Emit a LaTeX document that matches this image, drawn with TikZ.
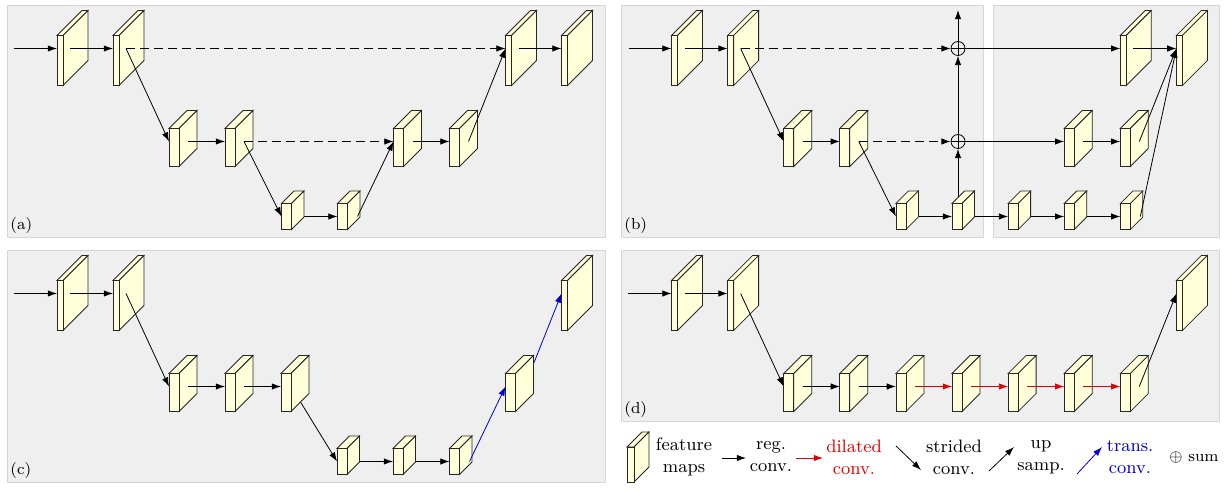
\documentclass[tikz,border=0pt]{standalone}
\usetikzlibrary{arrows.meta}
\definecolor{fmfill}{RGB}{255,255,218}
\definecolor{panelbg}{RGB}{239,239,239}
\definecolor{panelline}{RGB}{214,214,214}
\definecolor{dilred}{RGB}{226,0,0}
\definecolor{transblue}{RGB}{0,0,210}
\pgfdeclarelayer{back}
\pgfdeclarelayer{mid}
\pgfsetlayers{back,mid,main}
% feature map: name, x, y (front top left), width, height, depth, out offset
\newcommand{\fmap}[7]{%
  \filldraw[fmface] (#2,#3) -- ++(#6,-#6) -- ++(#4,0) -- ++(-#6,#6) -- cycle;
  \filldraw[fmface] (#2+#4,#3) -- ++(#6,-#6) -- ++(0,#5) -- ++(-#6,#6) -- cycle;
  \filldraw[fmface] (#2,#3) rectangle ++(#4,#5);
  \coordinate (#1) at (#2,#3+13);
  \coordinate (#1o) at (#2+#7,#3+13);
}
\newcommand{\Lmap}[3]{\fmap{#1}{#2}{#3}{6}{50}{25}{13}}
\newcommand{\Mmap}[3]{\fmap{#1}{#2}{#3}{10}{38}{18}{19}}
\newcommand{\Smap}[3]{\fmap{#1}{#2}{#3}{10}{26}{12.5}{20}}
\begin{document}
\begin{tikzpicture}[x=0.5pt,y=-0.5pt,line width=0.5pt,>={Latex[length=4.6pt,width=3.2pt]},
  fmface/.style={fill=fmfill,draw=black!85},
  panel/.style={fill=panelbg,draw=panelline},
  skipconn/.style={dash pattern=on 4.5pt off 2.5pt},
  dilconn/.style={dilred},
  transconv/.style={transblue},
  plabel/.style={font=\footnotesize,inner sep=1.5pt,anchor=south west},
  legtext/.style={font=\small,align=center,inner sep=0pt},
  sumnode/.style={circle,draw,minimum size=7pt,inner sep=0pt,
    path picture={\draw (path picture bounding box.north) -- (path picture bounding box.south)
      (path picture bounding box.west) -- (path picture bounding box.east);}}]
\useasboundingbox (0,0) rectangle (1229,490);
\begin{pgfonlayer}{back}
  \draw[panel] (7,5) rectangle (605,237);
  \draw[panel] (621,5) rectangle (983,237);
  \draw[panel] (993,5) rectangle (1219,237);
  \draw[panel] (7,250) rectangle (605,482);
  \draw[panel] (621,250) rectangle (1219,421);
\end{pgfonlayer}

% (a)
\Lmap{a1}{57}{35.5}
\Lmap{a2}{113}{35.5}
\Mmap{a3}{169}{128.5}
\Mmap{a4}{225}{128.5}
\Smap{a5}{281.5}{203.5}
\Smap{a6}{337.5}{203.5}
\Mmap{a7}{393.5}{128.5}
\Mmap{a8}{449.5}{128.5}
\Lmap{a9}{505.5}{35.5}
\Lmap{a10}{561.5}{35.5}
\coordinate (ain) at (13.5,48.5);
\draw[->] (ain) -- (a1);
\draw[->] (a1o) -- (a2);
\draw[->,skipconn] (a2o) -- (a9);
\draw[->] (a2o) -- (a3);
\draw[->] (a3o) -- (a4);
\draw[->,skipconn] (a4o) -- (a7);
\draw[->] (a4o) -- (a5);
\begin{pgfonlayer}{mid}
  \draw[->] (a5o) -- (a6);
\end{pgfonlayer}
\draw[->] (a6o) -- (a7);
\draw[->] (a7o) -- (a8);
\draw[->] (a8o) -- (a9);
\draw[->] (a9o) -- (a10);
\node[plabel] (la) at (7,237) {(a)};

% (b)
\Lmap{b1}{671.5}{35.5}
\Lmap{b2}{727.6}{35.5}
\Mmap{b3}{783.7}{128.5}
\Mmap{b4}{839.8}{128.5}
\Smap{b5}{895.9}{203.5}
\Smap{b6}{952}{203.5}
\Smap{b7}{1008.1}{203.5}
\Smap{b8}{1064.2}{203.5}
\Smap{b9}{1120.3}{203.5}
\Mmap{b10}{1064.2}{128.5}
\Mmap{b11}{1120.3}{128.5}
\Lmap{b12}{1120.3}{35.5}
\Lmap{b13}{1176.4}{35.5}
\node[sumnode] (s1) at (958,48.5) {};
\node[sumnode] (s2) at (958,141.5) {};
\coordinate (bin) at (628.5,48.5);
\coordinate (btop) at (958,10);
\draw[->] (bin) -- (b1);
\draw[->] (b1o) -- (b2);
\draw[->,skipconn] (b2o) -- (s1.west);
\draw[->] (b2o) -- (b3);
\draw[->] (b3o) -- (b4);
\draw[->,skipconn] (b4o) -- (s2.west);
\draw[->] (b4o) -- (b5);
\begin{pgfonlayer}{mid}
  \draw[->] (b5o) -- (b6);
  \draw[->] (b6o) -- (b7);
  \draw[->] (b7o) -- (b8);
  \draw[->] (b8o) -- (b9);
  \draw[->] ([xshift=3pt]b6) -- (s2.south);
\end{pgfonlayer}
\draw[->] (s2.north) -- (s1.south);
\draw[->] (s1.north) -- (btop);
\draw[->] (s1.east) -- (b12);
\draw[->] (s2.east) -- (b10);
\draw[->] (b10o) -- (b11);
\draw[->] (b12o) -- (b13);
\draw[->] (b11o) -- (b13);
\draw[->] (b9o) -- (b13);
\node[plabel] (lb) at (621,237) {(b)};

% (c)
\Lmap{c1}{57}{280.5}
\Lmap{c2}{113}{280.5}
\Mmap{c3}{169}{373.5}
\Mmap{c4}{225}{373.5}
\Mmap{c5}{281}{373.5}
\Smap{c6}{337}{448.5}
\Smap{c7}{393}{448.5}
\Smap{c8}{449.5}{448.5}
\Mmap{c9}{505.5}{373.5}
\Lmap{c10}{561.5}{280.5}
\coordinate (cin) at (13.5,293.5);
\draw[->] (cin) -- (c1);
\draw[->] (c1o) -- (c2);
\draw[->] (c2o) -- (c3);
\draw[->] (c3o) -- (c4);
\draw[->] (c4o) -- (c5);
\begin{pgfonlayer}{mid}
  \draw[->] ([xshift=5pt]c5) -- (c6);
  \draw[->] (c6o) -- (c7);
  \draw[->] (c7o) -- (c8);
  \draw[->,transconv] (c9o) -- (c10);
\end{pgfonlayer}
\draw[->,transconv] (c8o) -- (c9);
\node[plabel] (lc) at (7,482) {(c)};

% (d)
\Lmap{d1}{671.5}{280.5}
\Lmap{d2}{727.6}{280.5}
\Mmap{d3}{783.7}{373.5}
\Mmap{d4}{839.8}{373.5}
\Mmap{d5}{895.9}{373.5}
\Mmap{d6}{952}{373.5}
\Mmap{d7}{1008.1}{373.5}
\Mmap{d8}{1064.2}{373.5}
\Mmap{d9}{1120.3}{373.5}
\Lmap{d10}{1176.4}{280.5}
\coordinate (din) at (628,293.5);
\draw[->] (din) -- (d1);
\draw[->] (d1o) -- (d2);
\draw[->] (d2o) -- (d3);
\draw[->] (d3o) -- (d4);
\draw[->] (d4o) -- (d5);
\draw[->,dilconn] (d5o) -- (d6);
\draw[->,dilconn] (d6o) -- (d7);
\draw[->,dilconn] (d7o) -- (d8);
\draw[->,dilconn] (d8o) -- (d9);
\draw[->] (d9o) -- (d10);
\node[plabel] (ld) at (621,421) {(d)};

% legend
\fmap{lg}{627}{447}{7}{35}{15}{0}
\node[legtext] (lfm) at (684,457) {feature\\maps};
\coordinate (r0) at (722,458);
\coordinate (r1) at (746,458);
\draw[->] (r0) -- (r1);
\node[legtext] (lreg) at (771,457) {reg.\\conv.};
\coordinate (d0) at (796,458);
\coordinate (d1) at (823,458);
\draw[->,dilconn] (d0) -- (d1);
\node[legtext,dilred] (ldil) at (854,457) {dilated\\conv.};
\coordinate (t0) at (896,446);
\coordinate (t1) at (921,470);
\draw[->] (t0) -- (t1);
\node[legtext] (lstr) at (954,457) {strided\\conv.};
\coordinate (u0) at (989,471);
\coordinate (u1) at (1014,447);
\draw[->] (u0) -- (u1);
\node[legtext] (lup) at (1041,457) {up\\samp.};
\coordinate (v0) at (1077,474);
\coordinate (v1) at (1102,447);
\draw[->,transconv] (v0) -- (v1);
\node[legtext] (ltr) at (1130,457) {\color{transblue}trans.\\\color{transblue}conv.};
\node[legtext,anchor=west,font=\footnotesize] (lsum) at (1169,458) {$\oplus$ sum};
\end{tikzpicture}
\end{document}
